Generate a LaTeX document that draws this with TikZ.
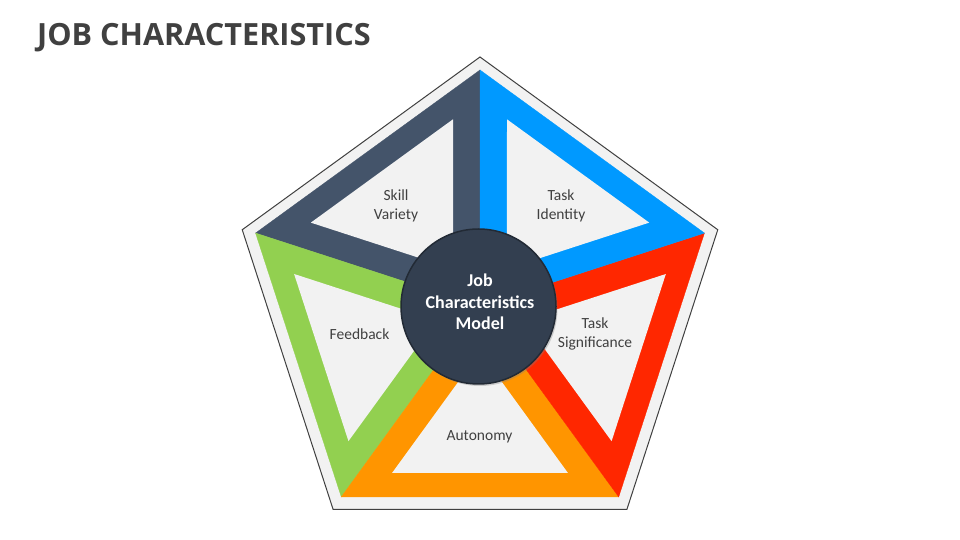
\documentclass[tikz,border=0pt]{standalone}
\usepackage{fontspec}
\setmainfont{Carlito}
\newfontfamily\titlefont{Open Sans}
\usetikzlibrary{shadows}
\definecolor{cgray}{HTML}{44546A}
\definecolor{cblue}{HTML}{0099FF}
\definecolor{cred}{HTML}{FF2700}
\definecolor{corange}{HTML}{FF9500}
\definecolor{cgreen}{HTML}{92D050}
\definecolor{bgfill}{HTML}{F2F2F2}
\definecolor{txt}{HTML}{404040}
\definecolor{hub}{HTML}{333F50}
\definecolor{hubline}{HTML}{222A35}
\begin{document}
\begin{tikzpicture}[x=1pt,y=1pt,
  lbl/.style={text=txt, font=\fontsize{15.5}{19}\selectfont, align=center, inner sep=0pt},
  hubtxt/.style={text=white, font=\fontsize{18}{21.5}\selectfont\bfseries, align=center, inner sep=0pt},
  pentagon/.style={fill=bgfill, draw=txt, line width=1pt, line join=miter},
  band/.style={line width=0.3pt, line join=miter}]
\useasboundingbox (0,0) rectangle (960,540);
\fill[white] (0,0) rectangle (960,540);

% title
\node[anchor=base west, font=\titlefont\bfseries\fontsize{30.6}{36}\selectfont, text=txt, inner sep=0pt] (title) at (37,494.5) {JOB CHARACTERISTICS};

% outer pentagon
\begin{scope}[shift={(480,233)}]
  \draw[pentagon] (90:250) -- (162:250) -- (234:250) -- (306:250) -- (18:250) -- cycle;
\end{scope}

% coloured triangular bands
\foreach \c/\r in {cgray/0, cgreen/72, corange/144, cred/216, cblue/288} {
  \begin{scope}[shift={(480,234)}, rotate=\r]
    \filldraw[band, fill=\c, draw=\c] (0,0) -- (90:236) -- (162:236) -- cycle;
    \fill[bgfill] (-27,37.1) -- (-27,186.7) -- (153.77:188.6) -- cycle;
  \end{scope}
}

% hub
\node[circle, minimum size=155pt, inner sep=0pt, fill=hub, draw=hubline, line width=1.5pt,
  drop shadow={shadow xshift=1.5pt, shadow yshift=-2pt, opacity=0.35}] (hub) at (478.5,233.5) {};
\node[hubtxt] (hubtext) at (480,238) {Job\\Characteristics\\Model};

% labels
\node[lbl] (skill) at (396,334) {Skill\\Variety};
\node[lbl] (identity) at (561,334) {Task\\Identity};
\node[lbl] (significance) at (595,206) {Task\\Significance};
\node[lbl] (feedback) at (359.5,206) {Feedback};
\node[lbl] (autonomy) at (479.5,103) {Autonomy};
\end{tikzpicture}
\end{document}
